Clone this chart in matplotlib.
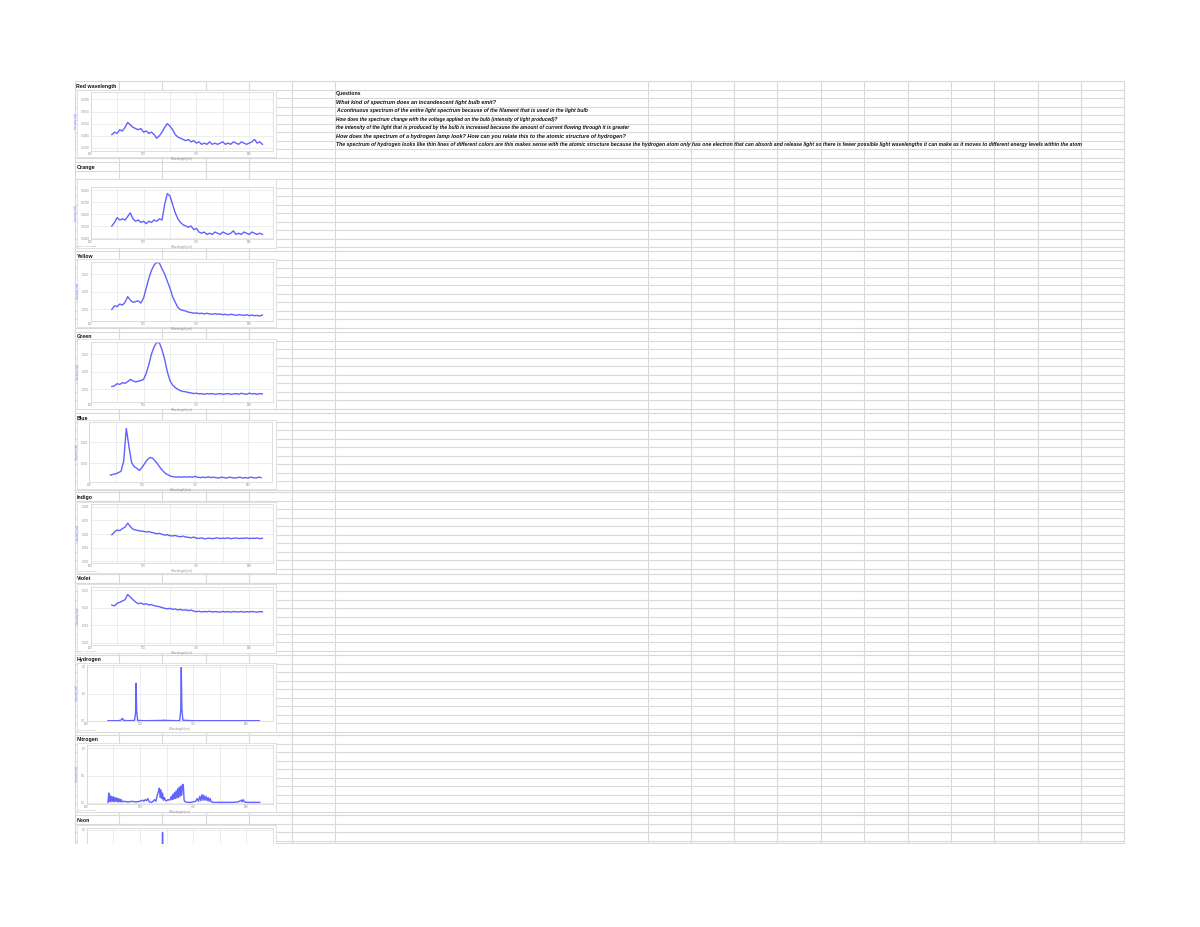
import numpy as np
import matplotlib.pyplot as plt
from matplotlib.patches import Rectangle

plt.rcParams['font.family'] = ['Liberation Sans', 'DejaVu Sans']

# ---------------- sheet text ----------------
labels = ["Red wavelength", "Orange", "Yellow", "Green", "Blue",
          "Indigo", "Violet", "Hydrogen", "Nitrogen", "Neon"]
questions = [
    "Questions",
    "What kind of spectrum does an incandescent light bulb emit?",
    "A continuous spectrum of the entire light spectrum because of the filament that is used in the light bulb",
    "How does the spectrum change with the voltage applied on the bulb (intensity of light produced)?",
    "the intensity of the light that is produced by the bulb is increased because the amount of current flowing through it is greater",
    "How does the spectrum of a hydrogen lamp look? How can you relate this to the atomic structure of hydrogen?",
    "The spectrum of hydrogen looks like thin lines of different colors are this makes sense with the atomic structure "
    "because the hydrogen atom only has one electron that can absorb and release light so there is fewer possible light "
    "wavelengths it can make as it moves to different energy levels within the atom",
]
run_note = "Run 1: 10/14/2020"

# ---------------- spectra (intensity, rel) ----------------
wl = list(range(380, 951, 10))
red = [0.041, 0.043, 0.042, 0.045, 0.044, 0.047, 0.051, 0.049, 0.047, 0.046,
       0.045, 0.046, 0.043, 0.044, 0.042, 0.043, 0.041, 0.038, 0.040, 0.043,
       0.047, 0.050, 0.048, 0.045, 0.041, 0.039, 0.038, 0.037, 0.036, 0.037,
       0.035, 0.036, 0.034, 0.035, 0.033, 0.034, 0.033, 0.035, 0.033, 0.034,
       0.033, 0.034, 0.035, 0.033, 0.034, 0.033, 0.035, 0.034, 0.033, 0.035,
       0.034, 0.033, 0.034, 0.035, 0.037, 0.034, 0.035, 0.033]
orange = [0.050, 0.053, 0.057, 0.055, 0.056, 0.055, 0.058, 0.061, 0.056, 0.054,
          0.055, 0.053, 0.054, 0.052, 0.054, 0.053, 0.055, 0.054, 0.056, 0.055,
          0.068, 0.077, 0.075, 0.068, 0.061, 0.056, 0.053, 0.051, 0.050, 0.049,
          0.050, 0.047, 0.048, 0.045, 0.044, 0.045, 0.043, 0.044, 0.043, 0.045,
          0.044, 0.043, 0.045, 0.044, 0.043, 0.044, 0.046, 0.043, 0.044, 0.043,
          0.045, 0.044, 0.043, 0.045, 0.044, 0.043, 0.044, 0.043]
yellow = [0.050, 0.060, 0.058, 0.065, 0.062, 0.070, 0.086, 0.076, 0.070, 0.072,
          0.074, 0.068, 0.082, 0.110, 0.138, 0.160, 0.176, 0.183, 0.181, 0.165,
          0.150, 0.130, 0.110, 0.086, 0.070, 0.055, 0.049, 0.047, 0.045, 0.042,
          0.041, 0.039, 0.040, 0.038, 0.039, 0.037, 0.039, 0.037, 0.036, 0.038,
          0.036, 0.037, 0.035, 0.036, 0.034, 0.036, 0.035, 0.033, 0.035, 0.034,
          0.033, 0.035, 0.032, 0.034, 0.032, 0.033, 0.031, 0.034]
green = [0.058, 0.060, 0.066, 0.064, 0.069, 0.067, 0.072, 0.078, 0.074, 0.071,
         0.073, 0.075, 0.078, 0.095, 0.120, 0.150, 0.170, 0.183, 0.182, 0.162,
         0.135, 0.100, 0.075, 0.062, 0.055, 0.050, 0.046, 0.044, 0.043, 0.041,
         0.040, 0.038, 0.039, 0.037, 0.038, 0.036, 0.038, 0.037, 0.038, 0.036,
         0.037, 0.038, 0.036, 0.037, 0.038, 0.036, 0.037, 0.038, 0.036, 0.039,
         0.037, 0.036, 0.039, 0.037, 0.038, 0.036, 0.038, 0.037]
blue = [0.022, 0.024, 0.025, 0.028, 0.031, 0.055, 0.133, 0.090, 0.052, 0.042,
        0.038, 0.033, 0.041, 0.050, 0.059, 0.064, 0.062, 0.055, 0.047, 0.038,
        0.031, 0.025, 0.022, 0.019, 0.018, 0.017, 0.018, 0.017, 0.018, 0.017,
        0.018, 0.017, 0.019, 0.017, 0.016, 0.017, 0.016, 0.018, 0.016, 0.017,
        0.016, 0.015, 0.017, 0.016, 0.015, 0.017, 0.016, 0.015, 0.016, 0.017,
        0.015, 0.016, 0.015, 0.017, 0.016, 0.015, 0.017, 0.016]
indigo = [0.0195, 0.0215, 0.0230, 0.0225, 0.0240, 0.0250, 0.0280, 0.0255, 0.0235, 0.0230,
          0.0225, 0.0222, 0.0220, 0.0215, 0.0218, 0.0212, 0.0208, 0.0202, 0.0205, 0.0198,
          0.0192, 0.0195, 0.0188, 0.0186, 0.0190, 0.0183, 0.0180, 0.0185, 0.0178, 0.0176,
          0.0172, 0.0178, 0.0170, 0.0168, 0.0172, 0.0165, 0.0168, 0.0170, 0.0166, 0.0169,
          0.0172, 0.0167, 0.0170, 0.0168, 0.0172, 0.0166, 0.0169, 0.0171, 0.0167, 0.0170,
          0.0168, 0.0172, 0.0167, 0.0170, 0.0168, 0.0171, 0.0166, 0.0169]
violet = [0.0214, 0.0210, 0.0224, 0.0230, 0.0238, 0.0245, 0.0275, 0.0260, 0.0245, 0.0232,
          0.0222, 0.0226, 0.0218, 0.0222, 0.0215, 0.0217, 0.0211, 0.0208, 0.0205, 0.0200,
          0.0196, 0.0193, 0.0196, 0.0190, 0.0192, 0.0187, 0.0190, 0.0185, 0.0187, 0.0183,
          0.0186, 0.0180, 0.0177, 0.0179, 0.0175, 0.0178, 0.0176, 0.0179, 0.0175, 0.0177,
          0.0176, 0.0174, 0.0178, 0.0175, 0.0177, 0.0174, 0.0178, 0.0176, 0.0175, 0.0178,
          0.0174, 0.0177, 0.0175, 0.0178, 0.0176, 0.0174, 0.0177, 0.0176]

h_wl = [380, 420, 430, 434, 438, 450, 480, 484, 486, 488, 492, 520, 580, 590, 600,
        640, 650, 654, 656, 658, 662, 700, 800, 950]
h_val = [0.01, 0.01, 0.04, 0.10, 0.03, 0.01, 0.02, 0.30, 1.39, 0.35, 0.02, 0.01, 0.02, 0.03, 0.02,
         0.01, 0.02, 0.40, 1.96, 0.45, 0.03, 0.01, 0.01, 0.01]

n_wl = [380, 383, 385, 388, 391, 394, 397, 400, 403, 406, 409, 412, 415, 418, 421, 424, 427, 430, 434,
        440, 450, 460, 470, 480, 490, 500, 510, 515, 520, 525, 530, 535, 545, 555, 560, 565, 570, 573,
        576, 579, 582, 585, 588, 592, 596, 600, 606, 612, 618, 621, 624, 627, 630, 633, 636, 639, 642,
        645, 648, 651, 654, 657, 660, 663, 666, 670, 680, 690, 700, 710, 715, 720, 725, 729, 733, 737,
        740, 744, 748, 752, 756, 760, 764, 768, 775, 800, 850, 870, 880, 884, 888, 892, 900, 950]
n_val = [0.01, 0.18, 0.03, 0.13, 0.02, 0.12, 0.03, 0.11, 0.02, 0.10, 0.03, 0.09, 0.02, 0.08, 0.02, 0.07,
         0.02, 0.06, 0.02,
         0.03, 0.02, 0.02, 0.03, 0.02, 0.02, 0.03, 0.05, 0.03, 0.06, 0.04, 0.08, 0.02, 0.01, 0.06, 0.03,
         0.14, 0.22, 0.27,
         0.10, 0.24, 0.08, 0.18, 0.05, 0.10, 0.04, 0.04, 0.06, 0.05, 0.12, 0.06, 0.16, 0.07, 0.19, 0.08,
         0.22, 0.09, 0.26,
         0.10, 0.29, 0.12, 0.31, 0.14, 0.34, 0.33, 0.05, 0.02, 0.01, 0.01, 0.02, 0.03, 0.08, 0.03, 0.12,
         0.04, 0.15, 0.05,
         0.14, 0.05, 0.12, 0.04, 0.10, 0.03, 0.08, 0.02, 0.01, 0.01, 0.01, 0.02, 0.05, 0.02, 0.06, 0.02,
         0.01, 0.01]

ne_wl = [380, 530, 534, 538, 580, 583, 585, 587, 590, 612, 614, 616, 638, 640, 642, 700, 703, 706, 950]
ne_val = [0.01, 0.01, 0.08, 0.01, 0.02, 0.30, 0.95, 0.30, 0.02, 0.02, 0.25, 0.02, 0.02, 0.45, 0.02,
          0.02, 0.30, 0.02, 0.01]

spectra = [(wl, red), (wl, orange), (wl, yellow), (wl, green), (wl, blue),
           (wl, indigo), (wl, violet), (h_wl, h_val), (n_wl, n_val), (ne_wl, ne_val)]

# ---------------- page layout (pixels on the 1200x927 page) ----------------
W, H = 1200, 927
col_x = [75, 119, 162, 206, 249, 292, 335, 648, 691, 734, 777, 821, 864,
         908, 951, 994, 1038, 1081, 1124]
label_y = [86, 167, 256, 337, 418, 497, 579, 660, 740, 820]
top, bottom = 81, 843

# image box, plot area, x max, y limits, y ticks, tick format, note under chart
charts = [
    ((76.5, 276, 90, 157), (90.7, 273, 91.7, 151), 990, (0.0275, 0.0763), [0.03, 0.04, 0.05, 0.06, 0.07], '%.4f', False),
    ((76.5, 276, 179, 248), (90.7, 273, 187, 239), 990, (0.0392, 0.0825), [0.04, 0.05, 0.06, 0.07, 0.08], '%.4f', True),
    ((76.5, 276, 259, 327), (90.7, 273, 261.7, 321), 990, (0.017, 0.185), [0.05, 0.10, 0.15], '%.3f', False),
    ((76.5, 276, 339, 409), (90.7, 273, 341.7, 401.7), 990, (0.015, 0.185), [0.05, 0.10, 0.15], '%.3f', False),
    ((76.5, 276, 420, 489), (89.3, 271.7, 421.7, 481.7), 990, (0.0063, 0.149), [0.05, 0.10], '%.3f', False),
    ((76.5, 276, 502, 573), (90.7, 273, 504, 563), 990, (-0.0012, 0.042), [0.0, 0.01, 0.02, 0.03, 0.04], '%.3f', True),
    ((76.5, 276, 584, 653), (90.7, 273, 586.7, 645), 990, (-0.0013, 0.0319), [0.0, 0.01, 0.02, 0.03], '%.3f', True),
    ((76.5, 276, 663, 732), (86.7, 272.7, 665, 721), 1000, (0.0, 2.06), [0.0, 1.0, 2.0], '%.1f', True),
    ((76.5, 276, 743, 812), (86.7, 273, 745, 804), 1000, (-0.02, 1.06), [0.0, 0.5, 1.0], '%.1f', True),
    ((76.5, 276, 825, 893), (86.7, 273, 828, 886), 1000, (-0.02, 1.03), [0.0, 0.5, 1.0], '%.1f', False),
]


def fig_rect(x0, x1, y0, y1):
    return [x0 / W, 1 - y1 / H, (x1 - x0) / W, (y1 - y0) / H]


fig = plt.figure(figsize=(12, 9.27), dpi=100)

# spreadsheet grid
sheet = fig.add_axes([0, 0, 1, 1], zorder=0)
sheet.set_xlim(0, W)
sheet.set_ylim(H, 0)
sheet.axis('off')

starts = [top] + [y - 5 for y in label_y[1:]] + [bottom]
rows = []
for a, b in zip(starts[:-1], starts[1:]):
    rows += list(np.arange(a, b, 8.5))
rows.append(bottom)
sheet.hlines(rows, col_x[0], col_x[-1], color='#d9d9d9', lw=0.8)
sheet.vlines(col_x, top, bottom, color='#d9d9d9', lw=0.8)

# chart images
for (box, area, xmax, ylim, yticks, fmt, note), (x, y) in zip(charts, spectra):
    bx0, bx1, by0, by1 = box
    fig.add_artist(Rectangle((bx0 / W, 1 - by1 / H), (bx1 - bx0) / W, (by1 - by0) / H,
                             transform=fig.transFigure, facecolor='white',
                             edgecolor='#d6d6d6', lw=0.5, zorder=1))
    ax = fig.add_axes(fig_rect(*area), zorder=2)
    ax.plot(x, y, color='#4646ff', lw=1.0, alpha=0.85)
    ax.set_xlim(300, xmax)
    ax.set_ylim(*ylim)
    ax.set_xticks([300, 500, 700, 900])
    ax.set_xticks([400, 600, 800], minor=True)
    ax.set_yticks(yticks)
    ax.set_yticklabels([fmt % v for v in yticks])
    ax.grid(which='both', color='#e6e6e6', lw=0.5)
    ax.set_axisbelow(True)
    ax.tick_params(which='both', length=0, labelsize=2, labelcolor='#8a8a8a', pad=1)
    for s in ax.spines.values():
        s.set_color('#d2d2d2')
        s.set_linewidth(0.5)
    ax.set_xlabel('Wavelength (nm)', fontsize=2, color='#8a8a8a', labelpad=0.6)
    ax.set_ylabel('Intensity (rel)', fontsize=2, color='#7d8dff', labelpad=1.5)
    if note:
        fig.text((bx0 + 1) / W, 1 - (by1 - 1.6) / H, run_note, fontsize=1.6,
                 color='#8a8a8a', va='center', zorder=3)

# page cut at the bottom of the printed sheet
fig.add_artist(Rectangle((0, 0), 1, (H - 844) / H, transform=fig.transFigure,
                         facecolor='white', edgecolor='none', zorder=10))

# text layer
over = fig.add_axes([0, 0, 1, 1], zorder=5)
over.set_xlim(0, W)
over.set_ylim(H, 0)
over.axis('off')

for name, yy in zip(labels, label_y):
    over.text(76.5, yy, name, fontsize=3.8, fontweight='bold', va='center', color='#111111')

q_ends = [361, 497, 587, 558, 633, 629, 1087]
q_texts = []
for i, line in enumerate(questions):
    yy = rows[i + 1] + 4.25
    t = over.text(336, yy, line, fontsize=3.6, fontweight='bold', va='center',
                  style='normal' if i == 0 else 'italic', color='#111111')
    q_texts.append(t)

# fit each question line to the width it takes on the sheet
for _ in range(3):
    fig.canvas.draw()
    rend = fig.canvas.get_renderer()
    for t, xe in zip(q_texts, q_ends):
        w = t.get_window_extent(rend).width
        t.set_fontsize(t.get_fontsize() * (xe - 336) / w)

fig.savefig('out.png', dpi=100)
